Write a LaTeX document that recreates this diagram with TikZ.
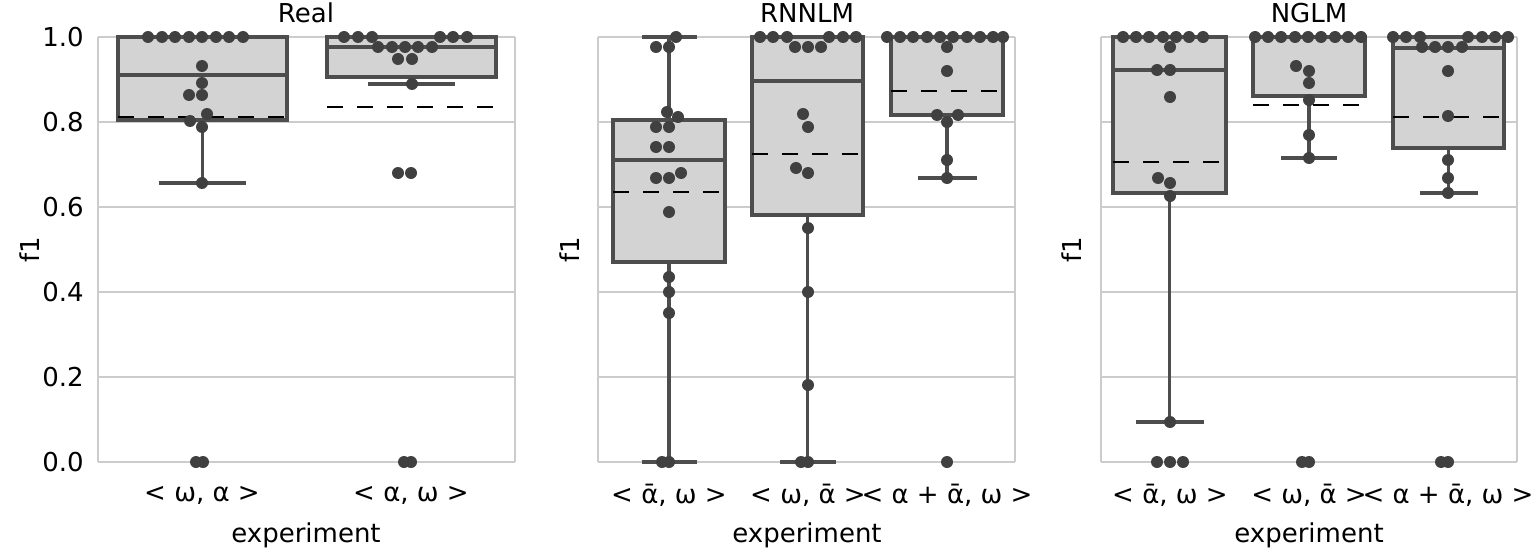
\documentclass[tikz,border=0pt]{standalone}
\usepackage{fontspec}
\setmainfont{DejaVu Sans}
\begin{document}
\begin{tikzpicture}[x=0.5pt,y=-0.5pt,
  grid/.style={draw={rgb,255:red,204;green,204;blue,204},line width=0.9pt},
  boxst/.style={draw={rgb,255:red,77;green,77;blue,77},fill={rgb,255:red,211;green,211;blue,211},line width=1.7pt},
  wh/.style={draw={rgb,255:red,77;green,77;blue,77},line width=1.7pt},
  meanst/.style={draw=black,line width=0.9pt,dash pattern=on 8pt off 7pt},
  dot/.style={fill={rgb,255:red,64;green,64;blue,64}},
  lab/.style={font=\fontsize{13}{15}\selectfont,inner sep=0pt}]
\useasboundingbox (0,0) rectangle (1534,551);
% panels
\foreach \l/\r in {98/515,598/1015,1101/1517}{
  \foreach \y in {37,122,207,292,377,462} \draw[grid] (\l,\y) -- (\r,\y);
  \draw[grid] (\l,37) -- (\l,462);
  \draw[grid] (\r,37) -- (\r,462);
}
\newcommand\mybox[9]{%
  \pgfmathsetmacro\cx{(#1+#2)/2}
  \draw[wh] (\cx,#5) -- (\cx,#6);
  \draw[wh] (#7,#5) -- (#8,#5);
  \draw[boxst] (#1,#3) rectangle (#2,37);
  \draw[wh] (#1,#4) -- (#2,#4);
  \draw[meanst] (#1,#9) -- (#2,#9);
}
\mybox{118}{287}{120}{75}{183}{37}{159}{246}{117}
\mybox{327}{496}{77}{47}{84}{37}{368}{455}{107}
\draw[wh] (669,37) -- (669,462) (642,37) -- (697,37) (642,462) -- (697,462);
\draw[boxst] (613,262) rectangle (725,120);
\draw[wh] (613,160) -- (725,160);
\draw[meanst] (613,192) -- (725,192);
\mybox{752}{863}{215}{81}{462}{37}{780}{836}{154}
\draw[wh] (780,37) -- (836,37);
\mybox{891}{1003}{115}{37}{178}{37}{918}{977}{91}
\mybox{1113}{1226}{193}{70}{422}{37}{1136}{1204}{162}
\mybox{1253}{1365}{96}{37}{158}{37}{1281}{1337}{105}
\mybox{1393}{1504}{148}{48}{193}{37}{1420}{1478}{117}
% dots
\foreach \a/\b in {
 148/37,162/37,175/37,189/37,202/37,216/37,229/37,243/37,
 202/66,202/83,189/95,202/95,207/114,190/121,202/127,202/183,196/462,203/462,
 344/37,358/37,372/37,440/37,453/37,467/37,
 378/47,392/47,405/47,418/47,432/47,398/59,412/59,412/84,398/173,411/173,404/462,411/462,
 676/37,656/47,669/47,667/112,678/117,656/127,669/127,656/147,669/147,
 656/178,669/178,681/173,669/212,669/277,669/292,669/313,662/462,669/462,
 760/37,773/37,787/37,829/37,843/37,856/37,795/47,808/47,821/47,
 803/114,808/127,796/168,808/173,808/228,808/292,808/385,801/462,808/462,
 887/37,900/37,913/37,927/37,940/37,953/37,967/37,980/37,993/37,1003/37,
 947/47,947/71,937/115,958/115,947/122,947/160,947/178,947/462,
 1123/37,1136/37,1149/37,1163/37,1176/37,1189/37,1203/37,
 1170/47,1157/70,1170/70,1170/97,1158/178,1170/183,1170/196,1170/422,
 1157/462,1170/462,1183/462,
 1255/37,1268/37,1281/37,1295/37,1308/37,1321/37,1335/37,1348/37,1361/37,
 1296/66,1309/71,1309/83,1309/100,1309/135,1309/158,1302/462,1309/462,
 1393/37,1406/37,1420/37,1468/37,1482/37,1495/37,1508/37,
 1422/47,1435/47,1448/47,1462/47,1448/71,1448/116,1448/160,1448/178,1448/193,
 1441/462,1448/462}{
  \fill[dot] (\a,\b) circle (3pt);
}
% labels
\foreach \v/\y in {0.0/462,0.2/377,0.4/292,0.6/207,0.8/122,1.0/37}
  \node[lab,anchor=east] (yl\y) at (84,\y) {\v};
\node[lab,rotate=90] (f1a) at (30,250) {f1};
\node[lab,rotate=90] (f1b) at (570,250) {f1};
\node[lab,rotate=90] (f1c) at (1072,250) {f1};
\node[lab] (t1) at (306,13) {Real};
\node[lab] (t2) at (807,13) {RNNLM};
\node[lab] (t3) at (1309,13) {NGLM};
\node[lab] (x1) at (202,495) {< ω, α >};
\node[lab] (x2) at (411,495) {< α, ω >};
\node[lab] (x3) at (669,495) {< ᾱ, ω >};
\node[lab] (x4) at (808,495) {< ω, ᾱ >};
\node[lab] (x5) at (947,495) {< α + ᾱ, ω >};
\node[lab] (x6) at (1170,495) {< ᾱ, ω >};
\node[lab] (x7) at (1309,495) {< ω, ᾱ >};
\node[lab] (x8) at (1448,495) {< α + ᾱ, ω >};
\node[lab] (e1) at (306,535) {experiment};
\node[lab] (e2) at (807,535) {experiment};
\node[lab] (e3) at (1309,535) {experiment};
\end{tikzpicture}
\end{document}
